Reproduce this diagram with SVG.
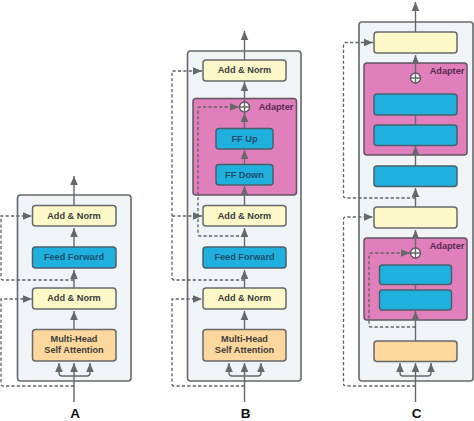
<svg xmlns="http://www.w3.org/2000/svg" width="474" height="421" viewBox="0 0 474 421">
<style>
text{font-family:"Liberation Sans",Arial,sans-serif;font-weight:bold;text-anchor:middle}
.t{font-size:9.2px;fill:#3d3d3d}
.tb{font-size:9.2px;fill:#1c4f6e}
.ta{font-size:9.2px;fill:#5a2a55}
.l{font-size:13.5px;fill:#111}
.c{fill:#f1f4f7;stroke:#66686b;stroke-width:1.6}
.ad{fill:#e07fbb;stroke:#5f5560;stroke-width:1.5}
.y{fill:#fdf8c8;stroke:#66686b;stroke-width:1.5}
.b{fill:#1fb0de;stroke:#4a5f6c;stroke-width:1.5}
.o{fill:#fed79c;stroke:#66686b;stroke-width:1.5}
.s{fill:none;stroke:#66686b;stroke-width:1.4}
.d{fill:none;stroke:#5f6164;stroke-width:1.3;stroke-dasharray:3.2 2.2}
.x{fill:#fff;stroke:#5f5560;stroke-width:1.4}
</style>
<defs>
<marker id="a" markerUnits="userSpaceOnUse" markerWidth="10" markerHeight="10" refX="9" refY="5" orient="auto"><path d="M0,1.2L9,5L0,8.8z" fill="#66686b"/></marker>
</defs>
<g id="container-a"><rect class="c" x="17.5" y="195" width="113.5" height="186" rx="3"/></g>
<g id="container-b"><rect class="c" x="187.5" y="51" width="113.5" height="330" rx="3"/></g>
<g id="container-c"><rect class="c" x="359" y="22" width="114" height="359" rx="3"/></g>
<g id="adapter-b"><rect class="ad" x="193" y="98.5" width="103.5" height="96.5" rx="3"/><text class="ta" x="276" y="109.500">Adapter</text></g>
<g id="adapter-c1"><rect class="ad" x="364" y="63" width="103" height="92" rx="3"/><text class="ta" x="447" y="74">Adapter</text></g>
<g id="adapter-c2"><rect class="ad" x="364" y="238" width="103" height="82" rx="3"/><text class="ta" x="447" y="248.500">Adapter</text></g>
<g id="connectors">
<path class="s" marker-end="url(#a)" d="M74 205V176"/>
<path class="s" marker-end="url(#a)" d="M74 247V228"/>
<path class="s" marker-end="url(#a)" d="M74 288V270"/>
<path class="s" marker-end="url(#a)" d="M74 329V311"/>
<path class="s" marker-end="url(#a)" d="M74 402V363"/>
<path class="s" marker-end="url(#a)" d="M74 376H62Q59 376 59 373V363"/>
<path class="s" marker-end="url(#a)" d="M74 376H87Q90 376 90 373V363"/>
<path class="d" marker-end="url(#a)" d="M74 280H3Q1 280 1 278V216H32"/>
<path class="d" marker-end="url(#a)" d="M74 386H3Q1 386 1 384V299H32"/>
<path class="s" marker-end="url(#a)" d="M244.500 60V31"/>
<path class="s" marker-end="url(#a)" d="M244.500 102V82"/>
<path class="s" marker-end="url(#a)" d="M244.500 128V113"/>
<path class="s" marker-end="url(#a)" d="M244.500 164V150"/>
<path class="s" marker-end="url(#a)" d="M244.500 205V186"/>
<path class="s" marker-end="url(#a)" d="M244.500 247V228"/>
<path class="s" marker-end="url(#a)" d="M244.500 288V270"/>
<path class="s" marker-end="url(#a)" d="M244.500 329V311"/>
<path class="s" marker-end="url(#a)" d="M244.500 402V363"/>
<path class="s" marker-end="url(#a)" d="M244.500 376H232Q229 376 229 373V363"/>
<path class="s" marker-end="url(#a)" d="M244.500 376H258Q261 376 261 373V363"/>
<path class="d" marker-end="url(#a)" d="M244.500 280H174Q172 280 172 278V71H202"/>
<path class="d" marker-end="url(#a)" d="M172 216H202"/>
<path class="d" marker-end="url(#a)" d="M244.500 386H174Q172 386 172 384V299H202"/>
<path class="d" marker-end="url(#a)" d="M244.500 236H200Q198 236 198 234V109Q198 107 200 107H239"/>
<path class="s" marker-end="url(#a)" d="M415.500 32V2"/>
<path class="s" marker-end="url(#a)" d="M415.500 84V55"/>
<path class="s" marker-end="url(#a)" d="M415.500 166V146"/>
<path class="s" d="M415.500 115V125"/>
<path class="s" marker-end="url(#a)" d="M415.500 207V188"/>
<path class="s" marker-end="url(#a)" d="M415.500 259V230"/>
<path class="s" marker-end="url(#a)" d="M415.500 341V311"/>
<path class="s" d="M415.500 284V290"/>
<path class="s" marker-end="url(#a)" d="M415.500 402V363"/>
<path class="s" marker-end="url(#a)" d="M415.500 376H403Q400 376 400 373V363"/>
<path class="s" marker-end="url(#a)" d="M415.500 376H428Q431 376 431 373V363"/>
<path class="d" marker-end="url(#a)" d="M415.500 198H346Q343.500 198 343.500 196V44.500Q343.500 42.500 346 42.500H373"/>
<path class="d" marker-end="url(#a)" d="M415.500 386H346Q343.500 386 343.500 384V219Q343.500 217 346 217H373"/>
<path class="d" marker-end="url(#a)" d="M415.500 327H371Q369 327 369 325V255Q369 253 371 253H410"/>
</g>
<g id="a-norm2"><rect class="y" x="32.500" y="205.500" width="83.500" height="20.500" rx="3"/><text class="t" x="74" y="218.500">Add &amp; Norm</text></g>
<g id="a-ff"><rect class="b" x="32.500" y="247" width="83.500" height="21" rx="3"/><text class="tb" x="74" y="260">Feed Forward</text></g>
<g id="a-norm1"><rect class="y" x="32.500" y="288" width="83.500" height="21" rx="3"/><text class="t" x="74" y="301">Add &amp; Norm</text></g>
<g id="a-mhsa"><rect class="o" x="32.500" y="329.500" width="83.500" height="31.500" rx="3"/><text class="t" x="74" y="341.500">Multi-Head</text><text class="t" x="74" y="352.500">Self Attention</text></g>
<g id="b-norm3"><rect class="y" x="203" y="60" width="83" height="21" rx="3"/><text class="t" x="244.500" y="73">Add &amp; Norm</text></g>
<g id="b-plus"><circle class="x" cx="244.500" cy="107" r="5"/><path class="s" d="M239.500 107H249.500M244.500 102V112"/></g>
<g id="b-ffup"><rect class="b" x="216" y="128.500" width="57" height="20.500" rx="3"/><text class="tb" x="244.500" y="141.500">FF Up</text></g>
<g id="b-ffdown"><rect class="b" x="216" y="164.500" width="57" height="20.500" rx="3"/><text class="tb" x="244.500" y="177.500">FF Down</text></g>
<g id="b-norm2"><rect class="y" x="203" y="205.500" width="83" height="20.500" rx="3"/><text class="t" x="244.500" y="218.500">Add &amp; Norm</text></g>
<g id="b-ff"><rect class="b" x="203" y="247" width="83" height="21" rx="3"/><text class="tb" x="244.500" y="260">Feed Forward</text></g>
<g id="b-norm1"><rect class="y" x="203" y="288" width="83" height="21" rx="3"/><text class="t" x="244.500" y="301">Add &amp; Norm</text></g>
<g id="b-mhsa"><rect class="o" x="203" y="329.500" width="83" height="31.500" rx="3"/><text class="t" x="244.500" y="341.500">Multi-Head</text><text class="t" x="244.500" y="352.500">Self Attention</text></g>
<g id="c-norm2"><rect class="y" x="374" y="32" width="83" height="21" rx="3"/></g>
<g id="c-plus1"><circle class="x" cx="415.500" cy="78" r="5"/><path class="s" d="M410.500 78H420.500M415.500 73V83"/></g>
<g id="c-b1"><rect class="b" x="374" y="94" width="83" height="21" rx="3"/></g>
<g id="c-b2"><rect class="b" x="374" y="125" width="83" height="20.500" rx="3"/></g>
<g id="c-ff"><rect class="b" x="374" y="166" width="83" height="20.500" rx="3"/></g>
<g id="c-norm1"><rect class="y" x="374" y="207" width="83" height="21" rx="3"/></g>
<g id="c-plus2"><circle class="x" cx="415.500" cy="253" r="5"/><path class="s" d="M410.500 253H420.500M415.500 248V258"/></g>
<g id="c-b3"><rect class="b" x="379.500" y="265" width="72" height="19.500" rx="3"/></g>
<g id="c-b4"><rect class="b" x="379.500" y="290" width="72" height="20" rx="3"/></g>
<g id="c-mhsa"><rect class="o" x="374" y="341" width="83" height="20.500" rx="3"/></g>
<text class="l" x="75" y="417.500">A</text>
<text class="l" x="245.500" y="417.500">B</text>
<text class="l" x="416.500" y="417.500">C</text>
</svg>
